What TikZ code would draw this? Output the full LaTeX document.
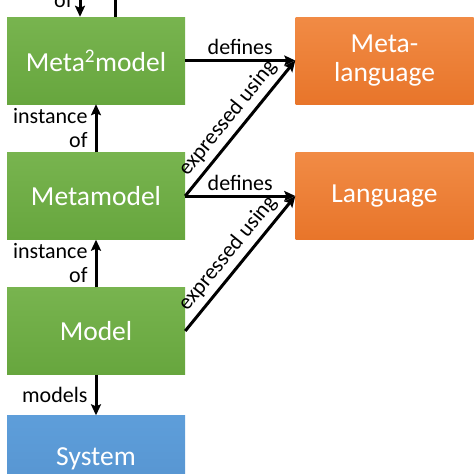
\documentclass[tikz,border=0pt]{standalone}
\usepackage{fontspec}
\setmainfont{Carlito}
\usetikzlibrary{arrows.meta}

\definecolor{greentop}{HTML}{78B44F}
\definecolor{greenbot}{HTML}{67A63E}
\definecolor{orangetop}{HTML}{F18B45}
\definecolor{orangebot}{HTML}{E8752A}
\definecolor{bluetop}{HTML}{5E9EDA}
\definecolor{bluebot}{HTML}{5593CF}

\tikzset{
  box/.style={minimum width=178pt, minimum height=87pt, inner sep=0pt,
    text=white, align=center, font=\fontsize{27.5}{29}\selectfont},
  greenbox/.style={box, top color=greentop, bottom color=greenbot},
  orangebox/.style={box, top color=orangetop, bottom color=orangebot},
  bluebox/.style={box, top color=bluetop, bottom color=bluebot},
  link/.style={line width=3pt, -{Stealth[length=11pt,width=10pt,inset=2pt]}},
  lbl/.style={font=\fontsize{22}{24}\selectfont, inner sep=4pt}
}

\begin{document}
\begin{tikzpicture}[x=1pt, y=-1pt]
\useasboundingbox (0,0) rectangle (474,474);
\clip (0,0) rectangle (474,474);
\node[greenbox] (meta2) at (96,60.5) {Meta\textsuperscript{2}model};
\node[greenbox] (metamodel) at (96,196) {Metamodel};
\node[greenbox] (model) at (96,331) {Model};
\node[bluebox] (system) at (96,459) {System}; % bottom, cut off
\node[orangebox] (metalang) at (384.5,60.5) {Meta-\\language};
\node[orangebox] (lang) at (384.5,196) {Language};
\coordinate (loopa) at (115,-40);
\coordinate (loopb) at (80,-40); % loop above, cut off
\draw[line width=3pt] (meta2.north -| loopa) -- (loopa) -- (loopb);
\draw[link] (loopb) -- node[lbl, left, align=right, inner sep=6pt] {instance\\of} (meta2.north -| loopb);
\draw[link] (metamodel.north) -- node[lbl, left, align=right, inner sep=7pt] {instance\\of} (meta2.south);
\draw[link] (model.north) -- node[lbl, left, align=right, inner sep=7pt] {instance\\of} (metamodel.south);
\draw[link] (model.south) -- node[lbl, left, inner sep=7pt] {models} (system.north);
\draw[link] (meta2.east) -- node[lbl, above] {defines} (metalang.west);
\draw[link] (metamodel.east) -- node[lbl, above] {defines} (lang.west);
\draw[link] (metamodel.east) -- node[lbl, above, sloped, inner sep=5pt] {expressed using} (metalang.west);
\draw[link] (model.east) -- node[lbl, above, sloped, inner sep=5pt] {expressed using} (lang.west);
\end{tikzpicture}
\end{document}
